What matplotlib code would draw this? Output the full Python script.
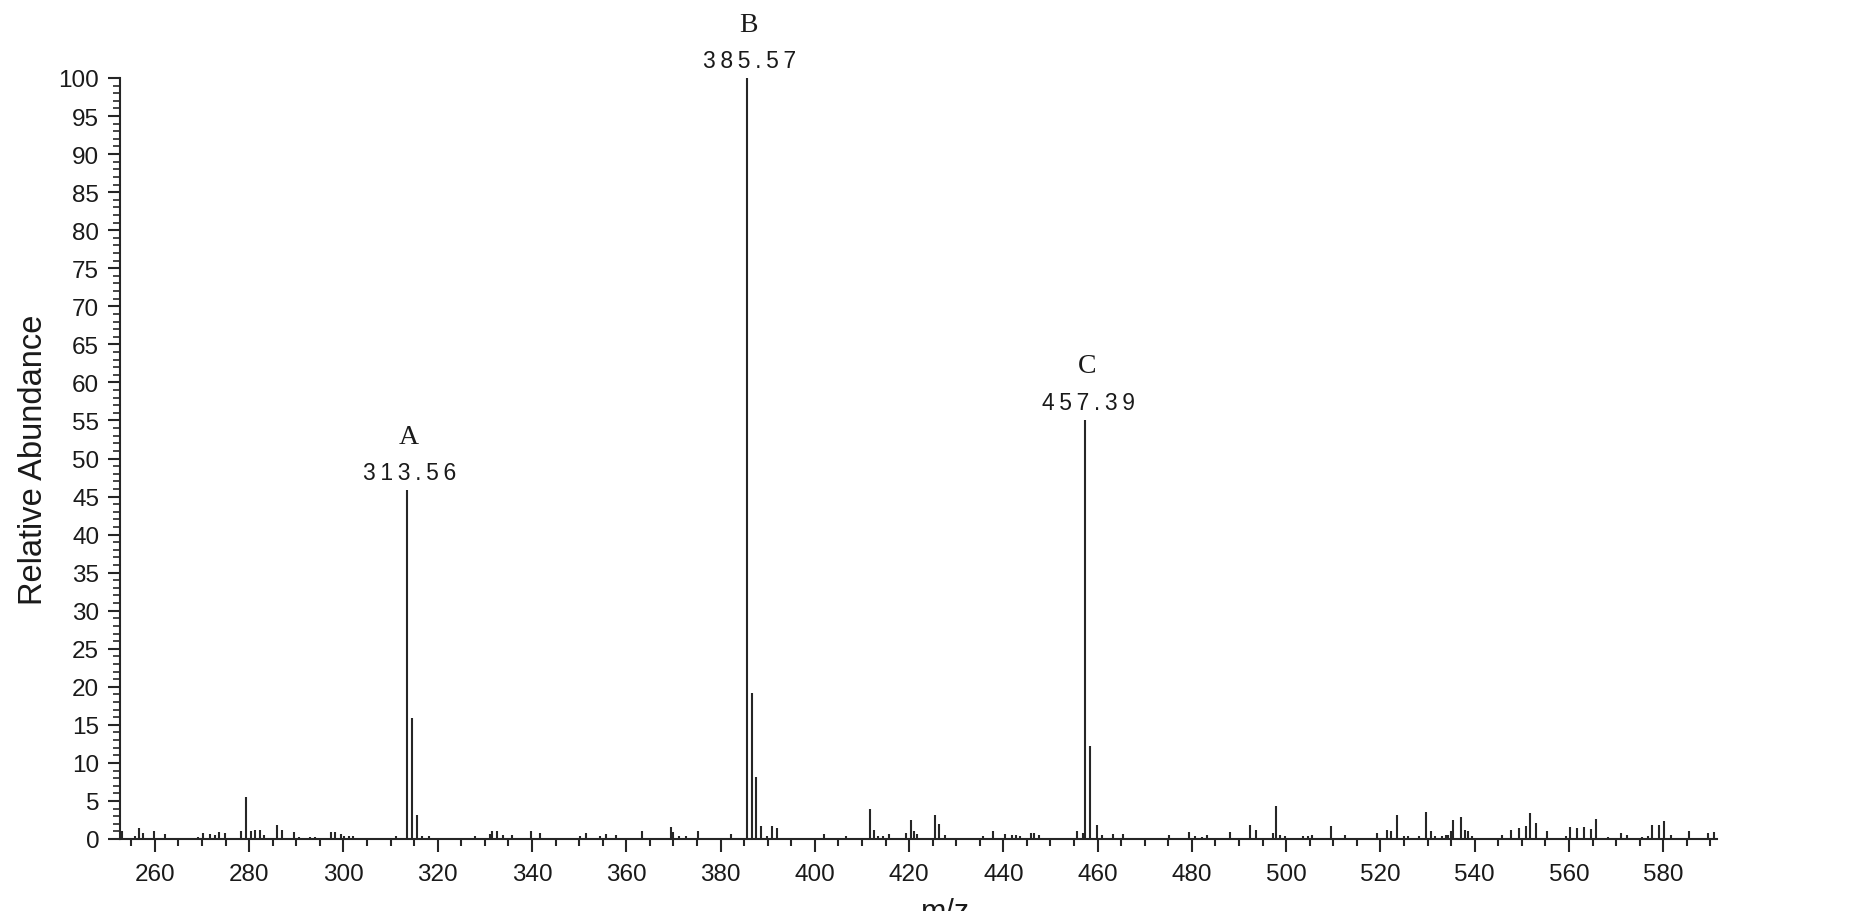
import numpy as np
import matplotlib
matplotlib.use("Agg")
import matplotlib.pyplot as plt
from matplotlib.ticker import MultipleLocator

plt.rcParams["font.family"] = ["Liberation Sans", "DejaVu Sans"]

# Centroid peaks: m/z and relative abundance (%).
MZ = [
    253.1, 255.8, 256.6, 257.5, 259.8, 262.1, 269.1, 270.3, 271.7, 272.7,
    273.6, 274.9, 278.2, 279.3, 280.4, 281.2, 282.4, 283.2, 285.9, 286.9,
    289.6, 290.6, 293.0, 293.9, 297.3, 298.2, 299.4, 300.2, 301.2, 302.1,
    311.1, 313.56, 314.6, 315.6, 316.6, 318.1, 327.9, 331.1, 331.6, 332.5,
    333.9, 335.7, 339.7, 341.7, 350.2, 351.4, 354.4, 355.7, 357.8, 363.3,
    369.4, 370.0, 371.2, 372.7, 375.3, 382.2, 385.57, 386.6, 387.5, 388.6,
    389.8, 391.0, 392.0, 401.9, 406.7, 411.7, 412.6, 413.5, 414.5, 415.7,
    419.3, 420.4, 421.0, 421.6, 425.6, 426.3, 427.6, 435.7, 437.9, 440.3,
    441.9, 442.7, 443.5, 445.8, 446.5, 447.6, 455.7, 456.8, 457.39, 458.3,
    459.8, 461.0, 463.3, 465.3, 475.1, 479.3, 480.7, 482.1, 483.2, 488.1,
    492.4, 493.6, 497.2, 497.8, 498.7, 499.8, 503.6, 504.6, 505.5, 509.5,
    512.4, 519.3, 521.3, 522.2, 523.6, 525.0, 525.9, 528.2, 529.6, 530.7,
    531.6, 533.0, 533.9, 534.4, 534.9, 535.4, 537.0, 538.0, 538.6, 539.5,
    545.8, 547.6, 549.5, 550.8, 551.8, 553.1, 555.4, 559.4, 560.3, 561.7,
    563.1, 564.7, 565.8, 568.2, 571.0, 572.3, 575.5, 576.7, 577.6, 579.0,
    580.2, 581.6, 585.4, 589.4, 590.7,
]
ABUNDANCE = [
    1.1, 0.44, 1.4, 0.79, 1.0, 0.66, 0.22, 0.75, 0.66, 0.57,
    0.88, 0.75, 1.1, 5.5, 1.0, 1.23, 1.23, 0.57, 1.9, 1.23,
    0.88, 0.3, 0.3, 0.3, 0.88, 0.88, 0.66, 0.35, 0.44, 0.44,
    0.35, 45.8, 15.9, 3.2, 0.35, 0.35, 0.35, 0.66, 1.0, 1.0,
    0.55, 0.5, 1.1, 0.75, 0.44, 0.75, 0.35, 0.6, 0.57, 1.0,
    1.6, 0.88, 0.44, 0.44, 1.0, 0.66, 100.0, 19.2, 8.1, 1.75,
    0.35, 1.75, 1.45, 0.66, 0.35, 3.9, 1.23, 0.44, 0.35, 0.66,
    0.79, 2.5, 1.1, 0.66, 3.2, 2.0, 0.57, 0.44, 1.0, 0.66,
    0.57, 0.57, 0.44, 0.79, 0.79, 0.57, 1.0, 0.79, 55.1, 12.2,
    1.9, 0.57, 0.66, 0.66, 0.57, 0.88, 0.35, 0.22, 0.57, 0.88,
    1.9, 1.23, 0.79, 4.4, 0.57, 0.44, 0.44, 0.44, 0.57, 1.75,
    0.5, 0.75, 1.23, 1.0, 3.2, 0.35, 0.44, 0.44, 3.6, 1.0,
    0.44, 0.35, 0.57, 0.57, 1.1, 2.5, 2.9, 1.23, 1.0, 0.44,
    0.57, 1.23, 1.4, 1.75, 3.4, 2.1, 1.0, 0.35, 1.6, 1.45,
    1.6, 1.3, 2.6, 0.22, 0.75, 0.57, 0.3, 0.44, 1.9, 1.9,
    2.4, 0.57, 1.0, 0.75, 0.88,
]

# Labelled peaks.
PEAK_LETTERS = ["A", "B", "C"]
PEAK_MZ = [313.56, 385.57, 457.39]
PEAK_HEIGHT = [45.8, 100.0, 55.1]

INK = "#262626"

fig = plt.figure(figsize=(18.57, 9.12), dpi=100)
ax = fig.add_axes([120 / 1857, 1 - 840 / 912, 1597 / 1857, 761 / 912])

ax.vlines(MZ, 0, ABUNDANCE, color=INK, linewidth=1.5, clip_on=False)

ax.set_xlim(252.6, 591.4)
ax.set_ylim(0, 100)

ax.xaxis.set_major_locator(MultipleLocator(20))
ax.xaxis.set_minor_locator(MultipleLocator(5))
ax.yaxis.set_major_locator(MultipleLocator(5))
ax.yaxis.set_minor_locator(MultipleLocator(1))

for side in ("top", "right"):
    ax.spines[side].set_visible(False)
for side in ("left", "bottom"):
    ax.spines[side].set_linewidth(1.5)
    ax.spines[side].set_color(INK)

ax.tick_params(axis="both", which="major", width=1.5, color=INK,
               labelsize=17.5, labelcolor="#1a1a1a")
ax.tick_params(axis="x", which="major", length=9, pad=8)
ax.tick_params(axis="x", which="minor", length=5, width=1.5, color=INK)
ax.tick_params(axis="y", which="major", length=9, pad=6)
ax.tick_params(axis="y", which="minor", length=5, width=1.2, color=INK)

ax.set_ylabel("Relative Abundance", fontsize=23.5, color="#1a1a1a", labelpad=7)
fig.text(946 / 1857, 1 - 898 / 912, "m/z", fontsize=22, color="#1a1a1a",
         ha="center", va="top")

# Peak annotations: letter (serif) above a letter-spaced m/z value.
for letter, x, h in zip(PEAK_LETTERS, PEAK_MZ, PEAK_HEIGHT):
    spaced = "\u2009".join(f"{x:.2f}")
    ax.annotate(spaced, (x, h), xytext=(2, 8), textcoords="offset points",
                ha="center", va="baseline", fontsize=16.5, color="#1a1a1a",
                annotation_clip=False)
    ax.annotate(letter, (x, h), xytext=(1, 34), textcoords="offset points",
                ha="center", va="baseline", fontsize=20,
                family=["Liberation Serif", "DejaVu Serif"], color="#1a1a1a",
                annotation_clip=False)

fig.savefig("out.png", dpi=100)
